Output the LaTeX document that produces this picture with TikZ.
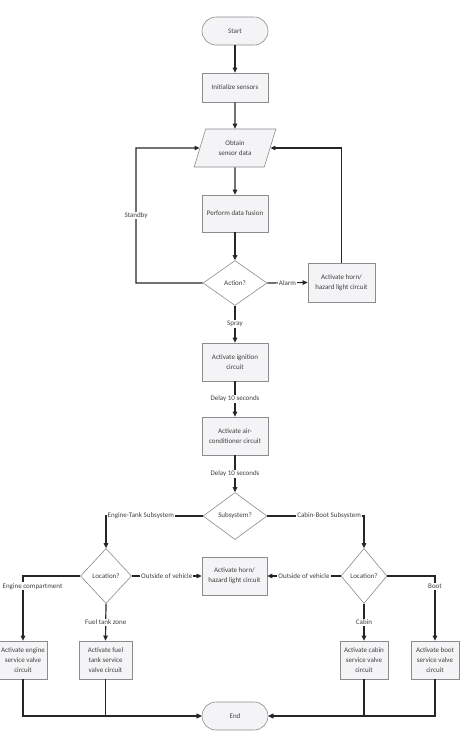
\documentclass[tikz,border=0pt]{standalone}
\usepackage{fontspec}
\setmainfont{Carlito}
\usetikzlibrary{arrows.meta,positioning,shapes.geometric}
\definecolor{fcline}{HTML}{262626}
\definecolor{fcedge}{HTML}{8C8C8C}
\definecolor{fcfill}{HTML}{F4F4F6}
\definecolor{fctext}{HTML}{404040}

\begin{document}
\begin{tikzpicture}[
    x=1pt, y=-1pt,
    every node/.style={font=\fontsize{7}{10}\selectfont, text=fctext},
    procbox/.style={rectangle, draw=fcedge, fill=fcfill, line width=0.6pt,
                    minimum width=66pt, minimum height=38pt, align=center, inner sep=1pt},
    smallbox/.style={procbox, minimum width=48pt},
    termbox/.style={rectangle, rounded corners=14pt, draw=fcedge, fill=fcfill,
                    line width=0.6pt, minimum width=66pt, minimum height=28pt},
    databox/.style={trapezium, trapezium left angle=68, trapezium right angle=112,
                    trapezium stretches=true, draw=fcedge, fill=fcfill, line width=0.6pt,
                    minimum width=82pt, minimum height=38pt, align=center, inner sep=1pt},
    decbox/.style={diamond, draw=fcedge, fill=white, line width=0.6pt,
                   inner sep=0pt, align=center},
    flow/.style={fcline, line width=1.2pt, -{Triangle[length=5pt, width=4.5pt]}},
    edgelbl/.style={fill=white, inner sep=1pt}
  ]

  % ---- Frame ----
  \useasboundingbox (0,0) rectangle (474,731);

  % ---- Main column ----
  \node[termbox] (START) at (235,31) {Start};
  \node[procbox, minimum height=29pt] (INIT) at (235,87.5) {Initialize sensors};
  \node[databox] (OBTAIN) at (235,148) {Obtain\\sensor data};
  \node[procbox, minimum height=37pt] (FUSION) at (235,213.5) {Perform data fusion};
  \node[decbox, minimum width=64pt, minimum height=45pt] (ACTION) at (235,283) {Action?};
  \node[procbox, minimum width=67pt, minimum height=39pt]
    (HORNA) at (341.5,282.5) {Activate horn/\\hazard light circuit};
  \node[procbox] (IGNITION) at (235,362) {Activate ignition\\circuit};
  \node[procbox] (AIRCON) at (235,436) {Activate air-\\conditioner circuit};
  \node[decbox, minimum width=64pt, minimum height=47pt] (SUBSYS) at (235,516) {Subsystem?};

  % ============ LOCATION BRANCHES ============
  \node[decbox, minimum width=51pt, minimum height=55pt] (LOCL) at (106,576) {Location?};
  \node[procbox, minimum width=65pt] (HORNB) at (234.5,576) {Activate horn/\\hazard light circuit};
  \node[decbox, minimum width=46pt, minimum height=55pt] (LOCR) at (364,576) {Location?};

  \node[smallbox] (ENGINE) at (23,660) {Activate engine\\service valve\\circuit};
  \node[smallbox, minimum width=53pt] (FUEL) at (105.5,660) {Activate fuel\\tank service\\valve circuit};
  \node[smallbox] (CABIN) at (364,660) {Activate cabin\\service valve\\circuit};
  \node[smallbox] (BOOT) at (435,660) {Activate boot\\service valve\\circuit};

  \node[termbox] (END) at (235,716) {End};

  % ---- Main flow ----
  \draw[flow] (START) -- (INIT);
  \draw[flow] (INIT) -- (OBTAIN);
  \draw[flow] (OBTAIN) -- (FUSION);
  \draw[flow] (FUSION) -- (ACTION);

  % ---- Loops back to sensing ----
  \coordinate (LOOPL) at (136,148);
  \draw[flow] (ACTION.west) -| (LOOPL) node[edgelbl, pos=0.75] {Standby} -- (OBTAIN.west);
  \draw[flow] (ACTION.east) -- node[edgelbl] {Alarm} (HORNA.west);
  \draw[flow] (HORNA.north) |- (OBTAIN.east);

  \draw[flow] (ACTION.south) -- node[edgelbl] {Spray} (IGNITION.north);
  \draw[flow] (IGNITION) -- node[edgelbl] {Delay 10 seconds} (AIRCON);
  \draw[flow] (AIRCON) -- node[edgelbl] {Delay 10 seconds} (SUBSYS);

  % ---- Subsystem split ----
  \draw[flow] (SUBSYS.west) -| node[edgelbl, pos=0.32] {Engine-Tank Subsystem} (LOCL.north);
  \draw[flow] (SUBSYS.east) -| node[edgelbl, pos=0.32] {Cabin-Boot Subsystem} (LOCR.north);

  \draw[flow] (LOCL.east) -- node[edgelbl] {Outside of vehicle} (HORNB.west);
  \draw[flow] (LOCR.west) -- node[edgelbl] {Outside of vehicle} (HORNB.east);

  \draw[flow] (LOCL.west) -| node[edgelbl, pos=0.58, anchor=west, xshift=-22pt]
    {Engine compartment} (ENGINE.north);
  \draw[flow] (LOCL.south) -- node[edgelbl] {Fuel tank zone} (FUEL.north);
  \draw[flow] (LOCR.south) -- node[edgelbl] {Cabin} (CABIN.north);
  \draw[flow] (LOCR.east) -| node[edgelbl, pos=0.58] {Boot} (BOOT.north);

  % ---- Into End ----
  \draw[flow] (ENGINE.south) |- (END.west);
  \draw[flow] (FUEL.south) |- (END.west);
  \draw[flow] (CABIN.south) |- (END.east);
  \draw[flow] (BOOT.south) |- (END.east);

\end{tikzpicture}
\end{document}
